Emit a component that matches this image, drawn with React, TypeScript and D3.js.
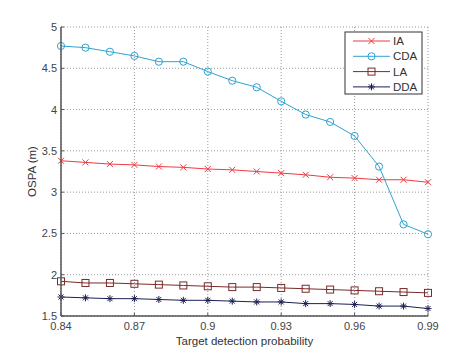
import React from "react";
import * as d3 from "d3";

const xValues = [0.84, 0.85, 0.86, 0.87, 0.88, 0.89, 0.9, 0.91, 0.92, 0.93, 0.94, 0.95, 0.96, 0.97, 0.98, 0.99];
const iaValues = [3.38, 3.36, 3.34, 3.33, 3.31, 3.3, 3.28, 3.27, 3.25, 3.23, 3.21, 3.18, 3.17, 3.15, 3.15, 3.12];
const cdaValues = [4.77, 4.75, 4.7, 4.65, 4.58, 4.58, 4.46, 4.35, 4.27, 4.1, 3.94, 3.85, 3.68, 3.31, 2.61, 2.49];
const laValues = [1.92, 1.9, 1.9, 1.89, 1.88, 1.87, 1.86, 1.85, 1.85, 1.84, 1.83, 1.82, 1.81, 1.8, 1.79, 1.78];
const ddaValues = [1.73, 1.72, 1.71, 1.71, 1.7, 1.69, 1.69, 1.68, 1.67, 1.67, 1.65, 1.65, 1.64, 1.62, 1.62, 1.59];
const xTicks = [0.84, 0.87, 0.9, 0.93, 0.96, 0.99];
const yTicks = [1.5, 2, 2.5, 3, 3.5, 4, 4.5, 5];
const seriesNames = ["IA", "CDA", "LA", "DDA"];

const W = 474, H = 355;
const M = { left: 61, right: 428, top: 27, bottom: 316 };
const FONT = "Liberation Sans, Arial, sans-serif";

const series = [
  { name: seriesNames[0], values: iaValues, color: "#ef3a42", marker: "x" },
  { name: seriesNames[1], values: cdaValues, color: "#2ea3d0", marker: "o" },
  { name: seriesNames[2], values: laValues, color: "#7a2a2a", marker: "s" },
  { name: seriesNames[3], values: ddaValues, color: "#1d1f55", marker: "*" },
];

function Marker({ type, x, y, color }: { type: string; x: number; y: number; color: string }) {
  const s = 3;
  if (type === "x")
    return <path d={`M${x - s},${y - s}L${x + s},${y + s}M${x - s},${y + s}L${x + s},${y - s}`} stroke={color} strokeWidth={1} fill="none" />;
  if (type === "o") return <circle cx={x} cy={y} r={3.6} stroke={color} strokeWidth={1} fill="none" />;
  if (type === "s") return <rect x={x - 3.5} y={y - 3.5} width={7} height={7} stroke={color} strokeWidth={1} fill="none" />;
  return (
    <path
      d={`M${x},${y - 3.5}L${x},${y + 3.5}M${x - 3.5},${y}L${x + 3.5},${y}M${x - 2.5},${y - 2.5}L${x + 2.5},${y + 2.5}M${x - 2.5},${y + 2.5}L${x + 2.5},${y - 2.5}`}
      stroke={color}
      strokeWidth={1}
      fill="none"
    />
  );
}

export default function App() {
  const x = d3.scaleLinear().domain([0.84, 0.99]).range([M.left, M.right]);
  const y = d3.scaleLinear().domain([1.5, 5]).range([M.bottom, M.top]);
  const line = d3
    .line<[number, number]>()
    .x((d) => x(d[0]))
    .y((d) => y(d[1]));

  const legend = { x: 345, y: 32, w: 77, h: 62 };

  return (
    <svg width={W} height={H} style={{ position: "absolute", left: 0, top: 0, background: "#fff" }} fontFamily={FONT}>
      {xTicks.map((t) => (
        <line key={"gx" + t} x1={x(t)} x2={x(t)} y1={M.top} y2={M.bottom} stroke="#999" strokeDasharray="1,2" strokeWidth={1} />
      ))}
      {yTicks.map((t) => (
        <line key={"gy" + t} x1={M.left} x2={M.right} y1={y(t)} y2={y(t)} stroke="#999" strokeDasharray="1,2" strokeWidth={1} />
      ))}
      {series.map((s) => {
        const pts = xValues.map((v, i) => [v, s.values[i]] as [number, number]);
        return (
          <g key={s.name}>
            <path d={line(pts) || ""} stroke={s.color} strokeWidth={1} fill="none" />
            {pts.map((p, i) => (
              <Marker key={i} type={s.marker} x={x(p[0])} y={y(p[1])} color={s.color} />
            ))}
          </g>
        );
      })}
      <line x1={M.left} x2={M.left} y1={M.top} y2={M.bottom} stroke="#555" strokeWidth={1.5} />
      <line x1={M.left} x2={M.right} y1={M.bottom} y2={M.bottom} stroke="#555" strokeWidth={1.5} />
      {xTicks.map((t) => (
        <g key={"tx" + t}>
          <line x1={x(t)} x2={x(t)} y1={M.bottom} y2={M.bottom - 3} stroke="#555" />
          <text x={x(t)} y={M.bottom + 14} textAnchor="middle" fontSize={11} fill="#444">
            {String(t)}
          </text>
        </g>
      ))}
      {yTicks.map((t) => (
        <g key={"ty" + t}>
          <line x1={M.left} x2={M.left + 3} y1={y(t)} y2={y(t)} stroke="#555" />
          <text x={M.left - 4} y={y(t) + 4} textAnchor="end" fontSize={11} fill="#444">
            {String(t)}
          </text>
        </g>
      ))}
      <text x={(M.left + M.right) / 2} y={345} textAnchor="middle" fontSize={11.5} fill="#333">
        Target detection probability
      </text>
      <text transform={`translate(36,${(M.top + M.bottom) / 2}) rotate(-90)`} textAnchor="middle" fontSize={11.5} fill="#333">
        OSPA (m)
      </text>
      <rect x={legend.x} y={legend.y} width={legend.w} height={legend.h} fill="#fff" stroke="#333" strokeWidth={1} />
      {series.map((s, i) => {
        const ly = legend.y + 9 + i * 15.3;
        return (
          <g key={"l" + s.name}>
            <line x1={353} x2={390} y1={ly} y2={ly} stroke={s.color} strokeWidth={1} />
            <Marker type={s.marker} x={371.5} y={ly} color={s.color} />
            <text x={393} y={ly + 4} fontSize={11.5} fill="#333">
              {s.name}
            </text>
          </g>
        );
      })}
    </svg>
  );
}
